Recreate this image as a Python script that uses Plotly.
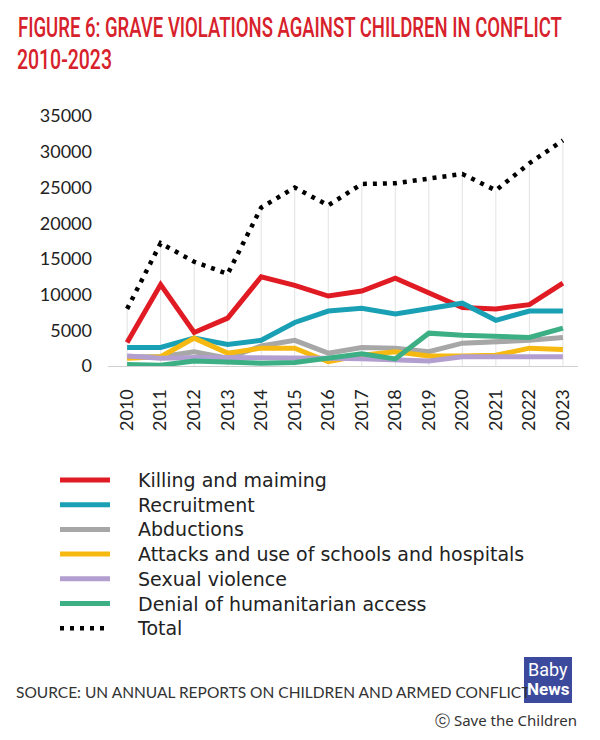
import plotly.graph_objects as go

years = list(range(2010, 2024))
killing = [3300, 11400, 4700, 6700, 12500, 11300, 9800, 10500, 12300, 10200, 8200, 8000, 8600, 11600]
recruitment = [2600, 2600, 3900, 3000, 3600, 6100, 7700, 8100, 7300, 8100, 8800, 6400, 7700, 7700]
abductions = [1300, 1300, 2000, 1100, 2800, 3600, 1800, 2600, 2500, 2000, 3200, 3400, 3600, 4000]
attacks = [1100, 1300, 3900, 1800, 2500, 2500, 600, 1500, 2000, 1400, 1400, 1500, 2500, 2300]
sexual = [1400, 1100, 1200, 1200, 1200, 1200, 1100, 1000, 800, 700, 1300, 1300, 1300, 1300]
denial = [200, 100, 700, 500, 400, 500, 1100, 1700, 1000, 4600, 4300, 4200, 4000, 5300]
total = [8000, 17200, 14600, 12900, 22200, 25000, 22500, 25500, 25600, 26200, 26900, 24600, 28400, 31600]

series_names = ["Killing and maiming", "Recruitment", "Abductions",
                "Attacks and use of schools and hospitals", "Sexual violence",
                "Denial of humanitarian access"]
series_values = [killing, recruitment, abductions, attacks, sexual, denial]
series_colors = ["#e01b24", "#1aa0b4", "#a7a7a7", "#f6b911", "#b29fd0", "#3daf85"]

yticks = [0, 5000, 10000, 15000, 20000, 25000, 30000, 35000]

W, H = 600, 740
L, R, T, B = 108, 22, 109, 374
pw, ph = W - L - R, H - T - B


def xp(px):
    return (px - L) / pw


def yp(py):
    return (H - B - py) / ph


fig = go.Figure()

# drop lines from total to zero
dx, dy = [], []
for yr, tv in zip(years, total):
    dx += [yr, yr, None]
    dy += [0, tv, None]
fig.add_trace(go.Scatter(x=dx, y=dy, mode="lines", line=dict(color="#e2e2e2", width=1),
                         showlegend=False, hoverinfo="skip"))

for name, vals, col in zip(series_names, series_values, series_colors):
    fig.add_trace(go.Scatter(x=years, y=vals, name=name, mode="lines", showlegend=False,
                             line=dict(color=col, width=5), cliponaxis=False))

fig.add_trace(go.Scatter(x=years, y=total, name="Total", mode="lines", showlegend=False,
                         line=dict(color="#000000", width=4.5, dash="4px,6px"),
                         cliponaxis=False))

fig.update_layout(
    width=W, height=H,
    margin=dict(l=L, r=R, t=T, b=B, autoexpand=False),
    paper_bgcolor="white", plot_bgcolor="white",
    showlegend=False,
    xaxis=dict(range=[2009.43, 2023.45], tickmode="array", tickvals=years,
               ticktext=[str(y) for y in years], tickangle=-90,
               tickfont=dict(family="Lato", size=18, color="#222222"),
               showgrid=False, zeroline=False, showline=True, linecolor="#d0d0d0",
               linewidth=1, ticks="", ticklabelstandoff=15),
    yaxis=dict(range=[0, 36000], tickmode="array", tickvals=yticks,
               ticktext=[str(v) for v in yticks],
               tickfont=dict(family="Lato", size=18, color="#222222"),
               showgrid=False, zeroline=False, showline=False, ticks="",
               ticklabelstandoff=15),
    font=dict(family="Lato"),
)

# legend (drawn manually for exact spacing)
leg_names = series_names + ["Total"]
leg_colors = series_colors + ["#000000"]
leg_font = 19
pitch = 1.3 * leg_font
top_row = 480
for i, col in enumerate(leg_colors):
    ry = top_row + pitch * i
    if i == len(leg_colors) - 1:
        ln = dict(color=col, width=4.5, dash="4px,6px")
    else:
        ln = dict(color=col, width=5)
    fig.add_shape(type="line", xref="paper", yref="paper", x0=xp(60), x1=xp(110),
                  y0=yp(ry), y1=yp(ry), line=ln)
mid = top_row + pitch * (len(leg_names) - 1) / 2
fig.add_annotation(text="<br>".join(leg_names), xref="paper", yref="paper", x=xp(135), y=yp(mid),
                   xanchor="left", yanchor="middle", align="left", showarrow=False,
                   font=dict(family="DejaVu Sans", size=leg_font, color="#222222"))

fig.add_annotation(text="FIGURE 6: GRAVE VIOLATIONS AGAINST CHILDREN IN CONFLICT",
                   xref="paper", yref="paper", x=xp(16), y=yp(10), xanchor="left", yanchor="top",
                   align="left", showarrow=False,
                   font=dict(family="Roboto", size=27, color="#d7212b", weight=500))
fig.add_annotation(text="2010-2023",
                   xref="paper", yref="paper", x=xp(15), y=yp(42), xanchor="left", yanchor="top",
                   align="left", showarrow=False,
                   font=dict(family="Roboto", size=27, color="#d7212b", weight=500))

fig.add_annotation(text="SOURCE: UN ANNUAL REPORTS ON CHILDREN AND ARMED CONFLICT",
                   xref="paper", yref="paper", x=xp(14), y=yp(692), xanchor="left", yanchor="middle",
                   showarrow=False, font=dict(family="Lato", size=15.5, color="#333333"))

fig.add_annotation(text="ⓒ Save the Children",
                   xref="paper", yref="paper", x=xp(579), y=yp(720), xanchor="right", yanchor="middle",
                   showarrow=False, font=dict(family="Noto Sans", size=15, color="#333333"))

# watermark logo
fig.add_shape(type="rect", xref="paper", yref="paper", x0=xp(524), x1=xp(572), y0=yp(703), y1=yp(657),
              fillcolor="#3c4a9d", line=dict(width=0), layer="above")
fig.add_annotation(text="Baby", xref="paper", yref="paper", x=xp(548), y=yp(669), xanchor="center",
                   yanchor="middle", showarrow=False,
                   font=dict(family="Roboto", size=18, color="white"))
fig.add_annotation(text="<b>News</b>", xref="paper", yref="paper", x=xp(548), y=yp(689), xanchor="center",
                   yanchor="middle", showarrow=False,
                   font=dict(family="Roboto", size=17, color="white"))

post = """
document.body.style.margin = '0';
var gd = document.getElementById('{plot_id}');
function condense() {
  var targets = {'FIGURE 6': [16, 544], '2010-2023': [15, 95]};
  gd.querySelectorAll('text.annotation-text').forEach(function (t) {
    var s = t.textContent;
    Object.keys(targets).forEach(function (k) {
      if (s.indexOf(k) === 0) {
        if (k === '2010-2023' && s !== '2010-2023') return;
        t.removeAttribute('transform');
        var bb = t.getBBox();
        var sc = targets[k][1] / bb.width;
        t.setAttribute('transform', 'translate(' + bb.x + ',0) scale(' + sc + ',1) translate(' + (-bb.x) + ',0)');
      }
    });
  });
}
condense();
gd.on('plotly_afterplot', condense);
"""

fig.write_html("out.html", post_script=post, config={"displayModeBar": False})
